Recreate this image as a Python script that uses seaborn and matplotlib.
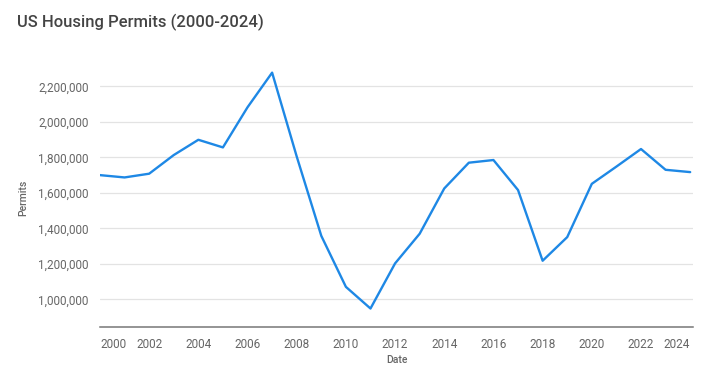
import pandas as pd
import numpy as np
import seaborn as sns
import matplotlib.pyplot as plt
from matplotlib.ticker import FuncFormatter

# values
years = [2000, 2001, 2002, 2003, 2004, 2005, 2006, 2007, 2008, 2009, 2010, 2011, 2012,
         2013, 2014, 2015, 2016, 2017, 2018, 2019, 2020, 2021, 2022, 2023, 2024]
permits = [1700000, 1687000, 1708000, 1813000, 1899000, 1856000, 2082000, 2277000, 1805000,
           1358000, 1071000, 949000, 1203000, 1370000, 1625000, 1770000, 1785000, 1616000,
           1218000, 1351000, 1651000, 1748000, 1847000, 1730000, 1717000]
x_ticks = list(range(2000, 2025, 2))
y_ticks = [1000000, 1200000, 1400000, 1600000, 1800000, 2000000, 2200000]

df = pd.DataFrame({'Date': years, 'Permits': permits})

sns.set_style('white')
plt.rcParams['font.family'] = ['Roboto', 'DejaVu Sans']

fig = plt.figure(figsize=(7.08, 3.8), dpi=100)
ax = fig.add_axes([0.1412, 0.1395, 0.8378, 0.6815])

sns.lineplot(data=df, x='Date', y='Permits', color='#1e88e5', linewidth=1.7, ax=ax)

ax.set_xlim(2000, 2024.12)
ax.set_ylim(845000, 2303000)
ax.set_xticks(x_ticks)
ax.set_xticklabels([str(y) for y in x_ticks])
ax.set_yticks(y_ticks)
ax.yaxis.set_major_formatter(FuncFormatter(lambda v, p: f'{int(v):,}'))

labels = ax.get_xticklabels()
labels[0].set_horizontalalignment('left')
labels[-1].set_horizontalalignment('right')

ax.grid(axis='y', color='#e3e3e3', linewidth=0.9)
ax.grid(axis='x', visible=False)
for s in ['top', 'right', 'left']:
    ax.spines[s].set_visible(False)
ax.spines['bottom'].set_color('#777777')
ax.spines['bottom'].set_linewidth(1.1)

ax.tick_params(axis='y', length=5, color='#dddddd', width=0.9, labelsize=8.5,
               labelcolor='#666666', pad=3)
ax.tick_params(axis='x', length=0, labelsize=8.5, labelcolor='#666666', pad=8)

ax.set_xlabel('Date', fontsize=7.5, color='#666666', fontweight='medium', labelpad=3)
ax.set_ylabel('Permits', fontsize=7.5, color='#666666', fontweight='medium', labelpad=7)

fig.text(0.024, 0.94, 'US Housing Permits (2000-2024)', fontsize=12, color='#444444',
         fontweight='medium', va='center', ha='left')

fig.savefig('out.png', dpi=100)
